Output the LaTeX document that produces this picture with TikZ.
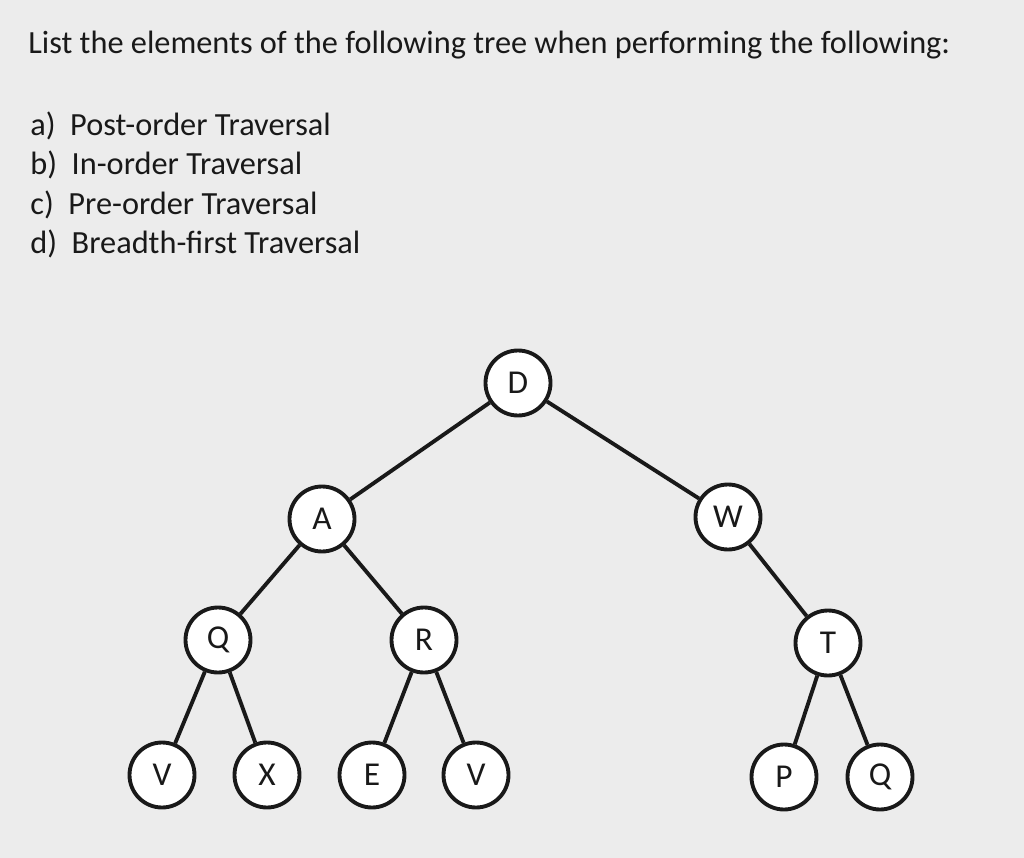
\documentclass[tikz,border=0pt]{standalone}
\usepackage{fontspec}
\setmainfont{Carlito}
\definecolor{paper}{RGB}{236,236,236}
\definecolor{ink}{RGB}{25,25,25}
\begin{document}
\begin{tikzpicture}[x=0.02cm,y=-0.02cm,
  vtx/.style={circle,draw=ink,line width=2.2pt,fill=white,minimum size=1.3cm,inner sep=0pt,font=\fontsize{19}{22}\selectfont,text=ink},
  edge/.style={draw=ink,line width=2.2pt},
  txt/.style={anchor=west,inner sep=0pt,text=ink,font=\fontsize{18.4}{22}\selectfont}]
\fill[paper] (0,0) rectangle (1024,858);
\useasboundingbox (0,0) rectangle (1024,858);
\node[txt] (t0) at (28,45) {List the elements of the following tree when performing the following:};
\node[txt] (t1) at (30,126) {a)\ \ Post-order Traversal};
\node[txt] (t2) at (30,165) {b)\ \ In-order Traversal};
\node[txt] (t3) at (30,205) {c)\ \ Pre-order Traversal};
\node[txt] (t4) at (30,244) {d)\ \ Breadth-first Traversal};
\node[vtx] (D) at (518,383) {D};
\node[vtx] (A) at (322,519) {A};
\node[vtx] (W) at (728,517) {W};
\node[vtx] (Q) at (218,640) {Q};
\node[vtx] (R) at (424,640) {R};
\node[vtx] (T) at (828,643) {T};
\node[vtx] (V1) at (162,775) {V};
\node[vtx] (X) at (267,775) {X};
\node[vtx] (E) at (372,775) {E};
\node[vtx] (V2) at (476,775) {V};
\node[vtx] (P) at (784,777) {P};
\node[vtx] (Q2) at (880,777) {Q};
\foreach \a/\b in {D/A,D/W,A/Q,A/R,W/T,Q/V1,Q/X,R/E,R/V2,T/P,T/Q2}
  \draw[edge] (\a) -- (\b);
\end{tikzpicture}
\end{document}
